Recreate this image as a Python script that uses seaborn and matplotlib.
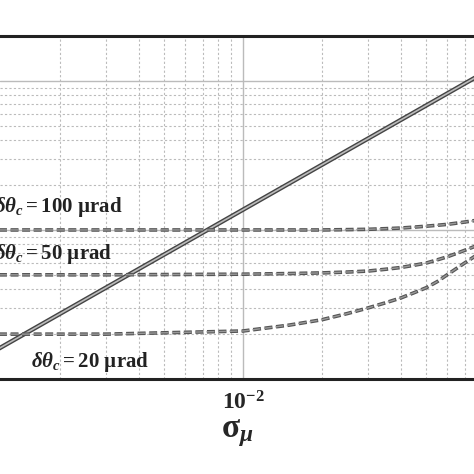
import matplotlib
matplotlib.use("Agg")
import matplotlib.pyplot as plt
import seaborn as sns
import numpy as np
import pandas as pd
from matplotlib.ticker import LogLocator, FixedLocator, NullFormatter

sns.set_theme(style="white")
plt.rcParams['font.family'] = ['Liberation Serif', 'DejaVu Serif']
plt.rcParams['mathtext.fontset'] = 'custom'
plt.rcParams['mathtext.it'] = 'Liberation Serif:bold:italic'
plt.rcParams['mathtext.rm'] = 'Liberation Serif:bold'
plt.rcParams['mathtext.bf'] = 'Liberation Serif:bold'

# data
line_x = [1e-3, 1e-1]
line_y = [1.37e-5, 1.37e-3]
sig = [1e-3, 3e-3, 1e-2, 1.5e-2, 2e-2, 2.5e-2, 3e-2, 3.5e-2, 4e-2, 4.5e-2, 5e-2, 5.5e-2, 6e-2, 6.5e-2, 7e-2, 7.5e-2, 8e-2]
c20 = [2.0e-5, 2.0e-5, 2.1e-5, 2.3e-5, 2.5e-5, 2.75e-5, 3.0e-5, 3.25e-5, 3.5e-5, 3.8e-5, 4.1e-5, 4.5e-5, 5.0e-5, 5.5e-5, 6.0e-5, 6.5e-5, 7.0e-5]
c50 = [5.0e-5, 5.0e-5, 5.05e-5, 5.1e-5, 5.15e-5, 5.22e-5, 5.3e-5, 5.45e-5, 5.6e-5, 5.8e-5, 6.0e-5, 6.3e-5, 6.6e-5, 6.95e-5, 7.3e-5, 7.65e-5, 8.0e-5]
c100 = [1e-4, 1e-4, 1e-4, 1.0e-4, 1.0e-4, 1.005e-4, 1.01e-4, 1.02e-4, 1.03e-4, 1.045e-4, 1.06e-4, 1.075e-4, 1.09e-4, 1.11e-4, 1.13e-4, 1.15e-4, 1.17e-4]

fig = plt.figure(figsize=(4.74, 4.74), dpi=100)
ax = fig.add_axes([0, 0.2004, 1, 0.7236])
ax.set_xscale('log'); ax.set_yscale('log')

sns.lineplot(x=line_x, y=line_y, ax=ax, color='#444444', lw=3.2)
sns.lineplot(x=line_x, y=line_y, ax=ax, color='#bbbbbb', lw=1.2)
for c in (c20, c50, c100):
    sns.lineplot(x=sig, y=c, ax=ax, color='#555555', lw=2.6, linestyle=(0, (2.2, 1.0)))
    sns.lineplot(x=sig, y=c, ax=ax, color='#999999', lw=1.0, linestyle=(0, (5.7, 2.6)))

ax.set_xlim(1.18e-3, 7.6e-2)
ax.set_ylim(1e-5, 2e-3)
ax.xaxis.set_major_locator(FixedLocator([1e-2]))
ax.xaxis.set_minor_locator(LogLocator(base=10, subs=np.arange(2, 10), numticks=20))
ax.yaxis.set_major_locator(FixedLocator([1e-5, 1e-4, 1e-3]))
ax.yaxis.set_minor_locator(LogLocator(base=10, subs=np.arange(2, 10), numticks=20))
ax.xaxis.set_minor_formatter(NullFormatter())
ax.yaxis.set_minor_formatter(NullFormatter())
ax.set_yticklabels([])
ax.grid(which='major', color='#bbbbbb', lw=1.0, ls='-')
ax.grid(which='minor', color='#bbbbbb', lw=0.8, ls=(0, (2, 2)))
ax.tick_params(which='both', length=0)
ax.set_xticks([1e-2])
ax.set_xticklabels([r'$\mathrm{10^{-2}}$'], fontsize=17)
ax.tick_params(axis='x', pad=9)
for s in ('top', 'bottom'):
    ax.spines[s].set_linewidth(2.2); ax.spines[s].set_color('#222222')
for s in ('left', 'right'):
    ax.spines[s].set_visible(False)
ax.set_xlabel(r'$\mathbf{\sigma}_{\mu}$', fontsize=24, labelpad=2)

kw = dict(fontsize=15, fontweight='bold', color='#222222', va='center')
ax.text(1.12e-3, 1.42e-4, r'$\delta\theta_c\mathit{=100}$ µrad', **kw)
ax.text(1.12e-3, 6.9e-5, r'$\delta\theta_c\mathit{=50}$ µrad', **kw)
ax.text(1.55e-3, 1.3e-5, r'$\delta\theta_c\mathit{=20}$ µrad', **kw)

fig.savefig('out.png', dpi=100)
